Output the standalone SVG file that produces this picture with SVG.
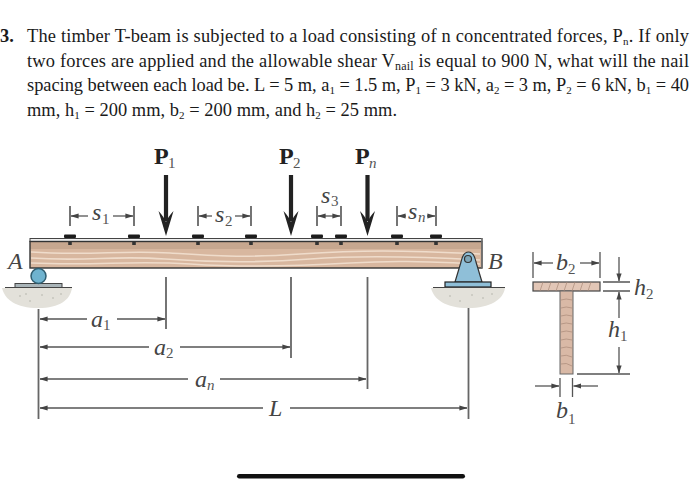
<svg xmlns="http://www.w3.org/2000/svg" width="700" height="484" viewBox="0 0 700 484">
<style>
.t{font-family:"Liberation Serif","Times New Roman",serif;font-size:18.4px;fill:#1a1a1a}
.b{font-family:"Liberation Serif",serif;font-weight:bold;font-size:24px;fill:#222}
.i{font-family:"Liberation Serif",serif;font-style:italic;font-size:24px;fill:#444}
.s{font-family:"Liberation Serif",serif;font-size:15px;fill:#555}
.si{font-family:"Liberation Serif",serif;font-style:italic;font-size:15px;fill:#555}
.d{stroke:#555;stroke-width:1.3;fill:none}
.e{stroke:#666;stroke-width:1.8;fill:none}
.grain{stroke:#efdccb;stroke-width:1.6;fill:none}
.hatch{stroke:#a98a78;stroke-width:.7;fill:none}
.gnd{fill:#e3e1da}
.gdot{fill:#c6c4bc}
</style>
<defs>
<marker id="ah" viewBox="0 0 8 6" refX="7.6" refY="3" markerWidth="8" markerHeight="6" markerUnits="userSpaceOnUse" orient="auto-start-reverse"><path d="M0 .4L8 3L0 5.6z" fill="#444"/></marker>
<marker id="lh" viewBox="0 0 16 24" refX="15.5" refY="12" markerWidth="16" markerHeight="24" markerUnits="userSpaceOnUse" orient="auto"><path d="M0 0L24 7L0 0z" fill="none"/></marker>
<g id="nail"><rect x="-6" y="-3.6" width="12" height="3.6" rx="1" fill="#1c1c1c"/><rect x="-1.8" y="4" width="3.6" height="3" fill="#333"/></g>
<g id="load"><rect x="-2.1" y="0" width="4.2" height="46" fill="#222"/><path d="M-7.5 36Q-2 42 0 47L0 47Q2 42 7.5 36L0 61z" fill="#222"/></g>
</defs>

<g id="problem-text">
<text class="t" x="0" y="42" font-weight="bold">3.</text>
<text class="t" x="27" y="42" textLength="662" lengthAdjust="spacing">The timber T-beam is subjected to a load consisting of n concentrated forces, P<tspan font-size="11" dy="3">n</tspan><tspan dy="-3">. If only</tspan></text>
<text class="t" x="27" y="67" textLength="662" lengthAdjust="spacing">two forces are applied and the allowable shear V<tspan font-size="12" dy="3">nail</tspan><tspan dy="-3"> is equal to 900 N, what will the nail</tspan></text>
<text class="t" x="27" y="91" textLength="662" lengthAdjust="spacing">spacing between each load be. L = 5 m, a<tspan font-size="11" dy="3">1</tspan><tspan dy="-3"> = 1.5 m, P</tspan><tspan font-size="11" dy="3">1</tspan><tspan dy="-3"> = 3 kN, a</tspan><tspan font-size="11" dy="3">2</tspan><tspan dy="-3"> = 3 m, P</tspan><tspan font-size="11" dy="3">2</tspan><tspan dy="-3"> = 6 kN, b</tspan><tspan font-size="11" dy="3">1</tspan><tspan dy="-3"> = 40</tspan></text>
<text class="t" x="27" y="116" textLength="370" lengthAdjust="spacing">mm, h<tspan font-size="11" dy="3">1</tspan><tspan dy="-3"> = 200 mm, b</tspan><tspan font-size="11" dy="3">2</tspan><tspan dy="-3"> = 200 mm, and h</tspan><tspan font-size="11" dy="3">2</tspan><tspan dy="-3"> = 25 mm.</tspan></text>
</g>

<g id="beam">
<rect x="30" y="240" width="452" height="28" fill="#d8b79f"/>
<path class="grain" d="M31 252C90 256 120 250 170 253S240 258 300 254S400 250 480 254"/>
<path class="grain" d="M31 258C90 262 110 255 165 259S260 263 310 259S410 256 480 260"/>
<path class="grain" d="M31 263C100 266 130 260 190 264S300 266 350 263S430 262 480 264"/>
<rect x="30" y="240" width="452" height="9" fill="#a88a74" opacity=".35"/>
<rect x="30" y="238.5" width="452" height="3" fill="#efefef" stroke="#444" stroke-width="1"/>
<rect x="30" y="241.5" width="452" height="26.5" fill="none" stroke="#333" stroke-width="1.4"/>
<path d="M482 238V268" stroke="#777" stroke-width="1.5"/>
</g>

<g id="nails">
<use href="#nail" x="70" y="238"/><use href="#nail" x="134" y="238"/><use href="#nail" x="198" y="238"/><use href="#nail" x="251" y="238"/><use href="#nail" x="317" y="238"/><use href="#nail" x="341" y="238"/><use href="#nail" x="397" y="238"/><use href="#nail" x="436" y="238"/>
</g>

<g id="support-A">
<path class="gnd" d="M2 288H72C70 300 60 308 38 308S5 300 2 288z"/>
<g class="gdot"><circle cx="20" cy="296" r="1"/><circle cx="30" cy="301" r="1"/><circle cx="42" cy="295" r="1"/><circle cx="53" cy="298" r="1"/><circle cx="61" cy="294" r="1"/><circle cx="26" cy="294" r="1"/></g>
<rect x="15" y="283.500" width="47" height="4" fill="#a9b4b8" stroke="#444"/>
<path d="M5 287.500H72" stroke="#444" stroke-width="1.2"/>
<circle cx="38.500" cy="276" r="7.500" fill="#6fb3cf" stroke="#2f5d70" stroke-width="1.500"/>
<text class="i" x="8" y="269" font-size="22">A</text>
</g>

<g id="support-B">
<path class="gnd" d="M431 288H505C503 300 490 308 468 308S434 300 431 288z"/>
<g class="gdot"><circle cx="450" cy="296" r="1"/><circle cx="460" cy="301" r="1"/><circle cx="472" cy="295" r="1"/><circle cx="483" cy="298" r="1"/><circle cx="492" cy="294" r="1"/></g>
<path d="M455 282L461 262Q463 252 468.500 252Q474 252 476 262L482 282z" fill="#8fbfd8" stroke="#333" stroke-width="1.200"/>
<rect x="445" y="282" width="46" height="5" fill="#8fbfd8" stroke="#222" stroke-width="1.200"/>
<path d="M433 287.500H505" stroke="#444" stroke-width="1"/>
<circle cx="468" cy="259" r="3.500" fill="#7fa6b8" stroke="#333" stroke-width="1.200"/>
<text class="i" x="488" y="269" font-size="23">B</text>
</g>

<g id="load-P1"><use href="#load" x="166" y="175"/><text class="b" x="154" y="164">P</text><text class="s" x="168" y="168">1</text></g>
<g id="load-P2"><use href="#load" x="291" y="175"/><text class="b" x="279" y="164">P</text><text class="s" x="293" y="168">2</text></g>
<g id="load-Pn"><use href="#load" x="367.500" y="175"/><text class="b" x="355" y="164">P</text><text class="si" x="369" y="168">n</text></g>

<g id="connectors">
<path class="e" d="M70 206V226M134 206V226M198 206V226M251 206V226M317 206V226M341 206V226M397 206V226M436 206V226" stroke-width="1.300"/>
<path class="d" marker-start="url(#ah)" d="M71 216H88"/><path class="d" marker-end="url(#ah)" d="M113 216H133"/>
<path class="d" marker-start="url(#ah)" d="M199 216H212"/><path class="d" marker-end="url(#ah)" d="M235 216H250"/>
<path class="d" marker-start="url(#ah)" marker-end="url(#ah)" d="M318 216H340"/>
<path class="d" marker-start="url(#ah)" d="M398 216H406"/><path class="d" marker-end="url(#ah)" d="M427 216H435"/>

<path class="e" d="M38.500 309V419M166 277V329M291 277V358M367.500 277V389M468.500 308V419"/>
<path class="d" marker-start="url(#ah)" d="M40 319H87"/><path class="d" marker-end="url(#ah)" d="M117 319H165"/>
<path class="d" marker-start="url(#ah)" d="M40 347H149"/><path class="d" marker-end="url(#ah)" d="M180 347H290"/>
<path class="d" marker-start="url(#ah)" d="M40 379H188"/><path class="d" marker-end="url(#ah)" d="M220 379H366"/>
<path class="d" marker-start="url(#ah)" d="M40 408H263"/><path class="d" marker-end="url(#ah)" d="M290 408H467"/>

<path class="d" d="M533 252V278M600 252V278"/>
<path class="d" marker-start="url(#ah)" d="M534 263H553"/><path class="d" marker-end="url(#ah)" d="M580 263H599"/>
<path class="d" d="M603 282H630M603 291H630M577 374H630M560 378V397M572.500 378V397"/>
<path class="d" marker-end="url(#ah)" d="M619 257V281"/><path class="d" marker-start="url(#ah)" d="M619 292V318"/><path class="d" marker-end="url(#ah)" d="M619 347V373"/>
<path class="d" marker-end="url(#ah)" d="M535 386H559"/><path class="d" marker-end="url(#ah)" d="M598 386H573.500"/>
</g>

<g id="dimension-labels">
<text class="i" x="92" y="220" font-size="22">s</text><text class="s" x="102" y="224">1</text>
<text class="i" x="215" y="222" font-size="22">s</text><text class="s" x="225" y="226">2</text>
<text class="i" x="321" y="203" font-size="22">s</text><text class="s" x="331" y="206">3</text>
<text class="i" x="408" y="219" font-size="22">s</text><text class="si" x="418" y="222" font-size="13">n</text>
<text class="i" x="91" y="327">a</text><text class="s" x="103" y="330">1</text>
<text class="i" x="154" y="355">a</text><text class="s" x="166" y="358">2</text>
<text class="i" x="195" y="387">a</text><text class="si" x="207" y="390">n</text>
<text class="i" x="269" y="416">L</text>
<text class="i" x="556" y="270">b</text><text class="s" x="568" y="274">2</text>
<text class="i" x="634" y="295">h</text><text class="s" x="646" y="299">2</text>
<text class="i" x="608" y="337">h</text><text class="s" x="620" y="341">1</text>
<text class="i" x="556" y="418">b</text><text class="s" x="568" y="424">1</text>
</g>

<g id="t-section">
<rect x="533" y="282" width="67" height="9" fill="#e2c6b6" stroke="#444" stroke-width="1.200"/>
<rect x="560" y="291" width="13" height="83" fill="#d9b9a6" stroke="#666" stroke-width="1"/>
<path class="hatch" d="M540 291L543 282M548 291L551 282M556 291L559 282M564 291L567 282M572 291L575 282M580 291L583 282M588 291L591 282M561 300Q566 298 572 300M561 308Q566 306 572 308M561 316Q566 314 572 316M561 324Q566 322 572 324M561 332Q566 330 572 332M561 340Q566 338 572 340M561 348Q566 346 572 348M561 356Q566 354 572 357M561 364Q566 362 572 366"/>
</g>

<rect id="home-bar" x="237" y="474" width="228" height="4.500" rx="2.200" fill="#111"/>
</svg>
